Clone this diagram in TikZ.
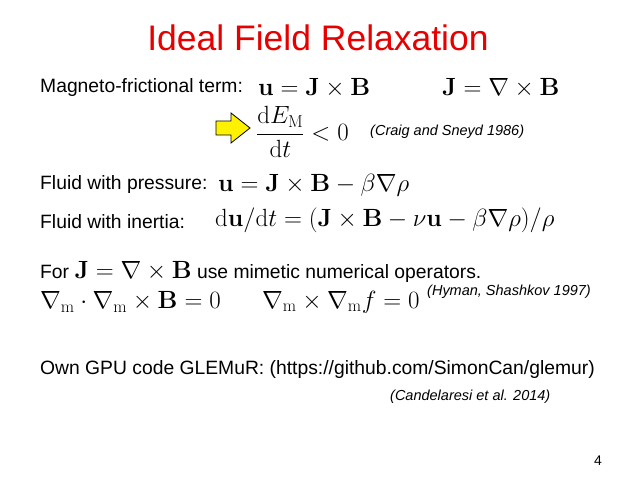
\documentclass[tikz,border=0pt]{standalone}
\usepackage{amsmath}
\usepackage[no-math]{fontspec}
\setmainfont{Liberation Sans}
\begin{document}
\begin{tikzpicture}[x=1pt,y=-1pt,
  txt/.style={anchor=west,inner sep=0pt,font=\fontsize{19.3}{22}\selectfont},
  mth/.style={anchor=west,inner sep=0pt,font=\fontsize{25}{28}\selectfont},
  cite/.style={anchor=west,inner sep=0pt,font=\fontsize{14.5}{17}\selectfont\itshape}]
\useasboundingbox (0,0) rectangle (638,478);
\definecolor{titlered}{RGB}{230,0,0}
\node[inner sep=0pt,text=titlered,font=\fontsize{35.5}{40}\selectfont] (title) at (318,38) {Ideal Field Relaxation};
\node[txt] (mf) at (40,88) {Magneto-frictional term:};
\node[mth] (m1) at (258,88) {$\mathbf{u}=\mathbf{J}\times\mathbf{B}$};
\node[mth] (m2) at (442,88) {$\mathbf{J}=\nabla\times\mathbf{B}$};
\draw[fill=yellow,line width=0.8pt] (216,121) -- (231,121) -- (231,113) -- (250,128) -- (231,143) -- (231,135) -- (216,135) -- cycle;
\node[mth] (fr) at (256,132) {$\dfrac{\mathrm{d}E_{\mathrm{M}}}{\mathrm{d}t}<0$};
\node[cite] (c1) at (370,132) {(Craig and Sneyd 1986)};
\node[txt] (fp) at (40,185) {Fluid with pressure:};
\node[mth] (m3) at (218,185) {$\mathbf{u}=\mathbf{J}\times\mathbf{B}-\beta\nabla\rho$};
\node[txt] (fi) at (40,222) {Fluid with inertia:};
\node[mth] (m4) at (215,220) {$\mathrm{d}\mathbf{u}/\mathrm{d}t=(\mathbf{J}\times\mathbf{B}-\nu\mathbf{u}-\beta\nabla\rho)/\rho$};
\node[txt] (for) at (40,272) {For \fontsize{25}{28}\selectfont$\mathbf{J}=\nabla\times\mathbf{B}$\fontsize{19.3}{22}\selectfont\ use mimetic numerical operators.};
\node[mth] (m5) at (40,302) {$\nabla_{\mathrm{m}}\cdot\nabla_{\mathrm{m}}\times\mathbf{B}=0$};
\node[mth] (m6) at (262,302) {$\nabla_{\mathrm{m}}\times\nabla_{\mathrm{m}}f=0$};
\node[cite] (c2) at (427,292) {(Hyman, Shashkov 1997)};
\node[txt] (gpu) at (40,370) {Own GPU code GLEMuR: (https://github.com/SimonCan/glemur)};
\node[cite] (c3) at (390,397) {(Candelaresi et al. 2014)};
\node[inner sep=0pt,font=\fontsize{14}{16}\selectfont] (pg) at (598,461) {4};
\end{tikzpicture}
\end{document}
